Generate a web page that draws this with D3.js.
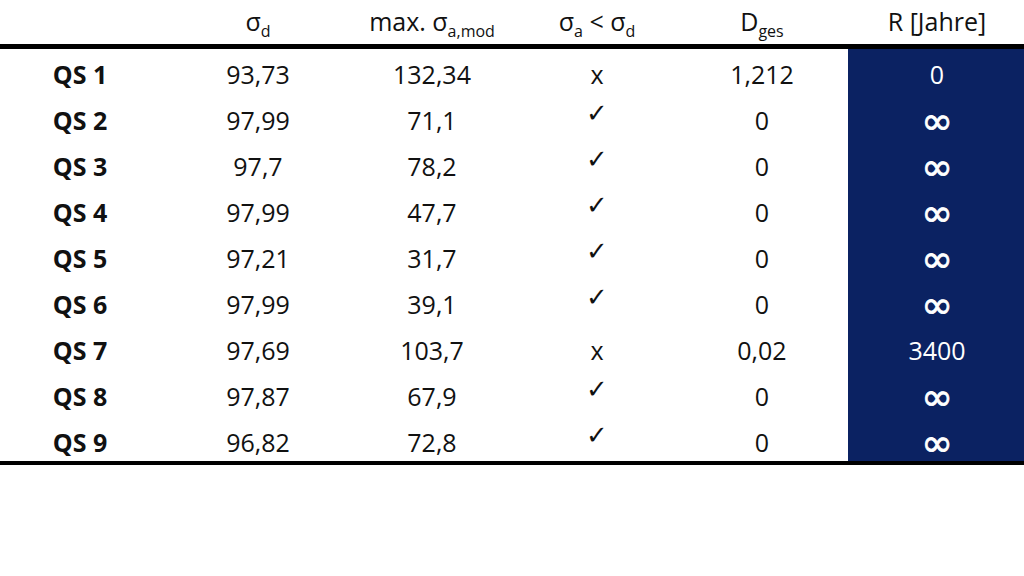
<!DOCTYPE html>
<html><head><meta charset="utf-8">
<script src="https://cdn.jsdelivr.net/npm/d3@7"></script>
<style>body{margin:0;background:#fff}</style>
</head><body>
<svg id="t" width="1024" height="576"></svg>
<script>
const rows = ['QS 1','QS 2','QS 3','QS 4','QS 5','QS 6','QS 7','QS 8','QS 9'];
const sigmaD = ['93,73','97,99','97,7','97,99','97,21','97,99','97,69','97,87','96,82'];
const sigmaAmod = ['132,34','71,1','78,2','47,7','31,7','39,1','103,7','67,9','72,8'];
const check = ['x','✓','✓','✓','✓','✓','x','✓','✓'];
const dges = ['1,212','0','0','0','0','0','0,02','0','0'];
const rJahre = ['0','∞','∞','∞','∞','∞','3400','∞','∞'];
const columns = ['label','sd','sa','chk','d','r'];
const colCenters = [80, 258, 432, 597, 762, 937];

const svg = d3.select('#t');
const font = "'Open Sans', sans-serif";

const x = d3.scaleOrdinal().domain(columns).range(colCenters);
const y = d3.scaleBand().domain(rows).range([52, 466]);

// dark column
svg.append('rect')
  .attr('x', 848).attr('y', y.range()[0] - 4)
  .attr('width', 176).attr('height', y.range()[1] - y.range()[0])
  .attr('fill', '#0b2262');

// header
const head = svg.append('g').attr('font-family', font).attr('font-size', 25)
  .attr('text-anchor', 'middle').attr('fill', '#111');
const hy = 31;
const addHead = (col, parts) => {
  const t = head.append('text').attr('x', x(col)).attr('y', hy);
  parts.forEach(([s, sub]) => {
    const ts = t.append('tspan').text(s);
    if (sub) ts.attr('font-size', 16).attr('dy', 6);
    else ts.attr('dy', t.selectAll('tspan').size() > 1 ? -6 : 0);
  });
};
addHead('sd', [['σ'], ['d', true]]);
addHead('sa', [['max. σ'], ['a,mod', true]]);
addHead('chk', [['σ'], ['a', true], [' < σ'], ['d', true]]);
addHead('d', [['D'], ['ges', true]]);
addHead('r', [['R [Jahre]']]);

// lines
svg.append('rect').attr('x', 0).attr('y', 44).attr('width', 1024).attr('height', 5).attr('fill', '#000');
svg.append('rect').attr('x', 0).attr('y', 461).attr('width', 1024).attr('height', 4).attr('fill', '#000');

// body
const body = svg.append('g').attr('font-family', font).attr('font-size', 25)
  .attr('text-anchor', 'middle');
const cols = { sd: sigmaD, sa: sigmaAmod, chk: check, d: dges, r: rJahre };
rows.forEach((r, i) => {
  const cy = y(r) + y.bandwidth() / 2;
  body.append('text').attr('x', x('label')).attr('y', cy).attr('dy', '0.35em')
    .attr('font-weight', 'bold').attr('fill', '#111').text(r);
  Object.entries(cols).forEach(([c, arr]) => {
    const v = arr[i];
    const t = body.append('text').attr('x', x(c)).attr('y', cy).attr('dy', '0.35em')
      .attr('fill', c === 'r' ? '#fff' : '#111').text(v);
    if (v === '✓') t.attr('font-family', "'DejaVu Sans', sans-serif").attr('font-size', 26).attr('dy', '0.05em');
    if (v === '∞') t.attr('font-family', "'DejaVu Sans', sans-serif").attr('font-size', 38)
      .attr('stroke', '#fff').attr('stroke-width', 0.8).attr('dy', '0.33em');
  });
});
</script>
</body></html>
